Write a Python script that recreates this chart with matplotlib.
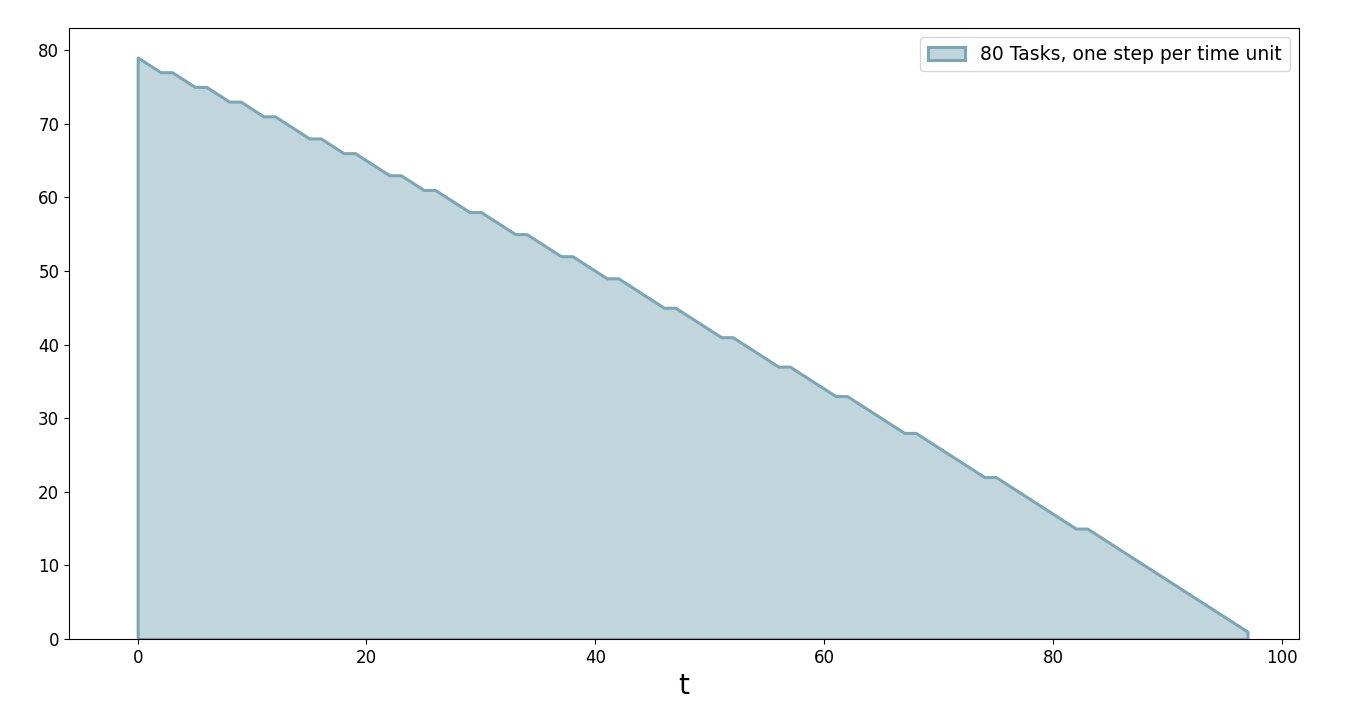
import matplotlib
matplotlib.use("Agg")
import matplotlib.pyplot as plt
import numpy as np

# remaining tasks per time step
t = list(range(98))
remaining = [79, 78, 77, 77, 76, 75, 75, 74, 73, 73, 72, 71, 71, 70, 69, 68, 68, 67, 66, 66,
             65, 64, 63, 63, 62, 61, 61, 60, 59, 58, 58, 57, 56, 55, 55, 54, 53, 52, 52, 51,
             50, 49, 49, 48, 47, 46, 45, 45, 44, 43, 42, 41, 41, 40, 39, 38, 37, 37, 36, 35,
             34, 33, 33, 32, 31, 30, 29, 28, 28, 27, 26, 25, 24, 23, 22, 22, 21, 20, 19, 18,
             17, 16, 15, 15, 14, 13, 12, 11, 10, 9, 8, 7, 6, 5, 4, 3, 2, 1]
label = '80 Tasks, one step per time unit'

fig = plt.figure(figsize=(13.53, 7.07), dpi=100)
ax = fig.add_axes([69/1353, 1 - 639/707, 1230/1353, 611/707])
ax.fill_between(t, remaining, facecolor='#c0d5dc', edgecolor='#7ba7b5',
                linewidth=2.2, label=label)
ax.set_xlim(-6, 101.5)
ax.set_ylim(0, 83)
ax.set_xlabel('t', fontsize=20)
ax.tick_params(labelsize=12)
ax.legend(loc='upper right', fontsize=13.5)
fig.savefig('out.png', dpi=100)
